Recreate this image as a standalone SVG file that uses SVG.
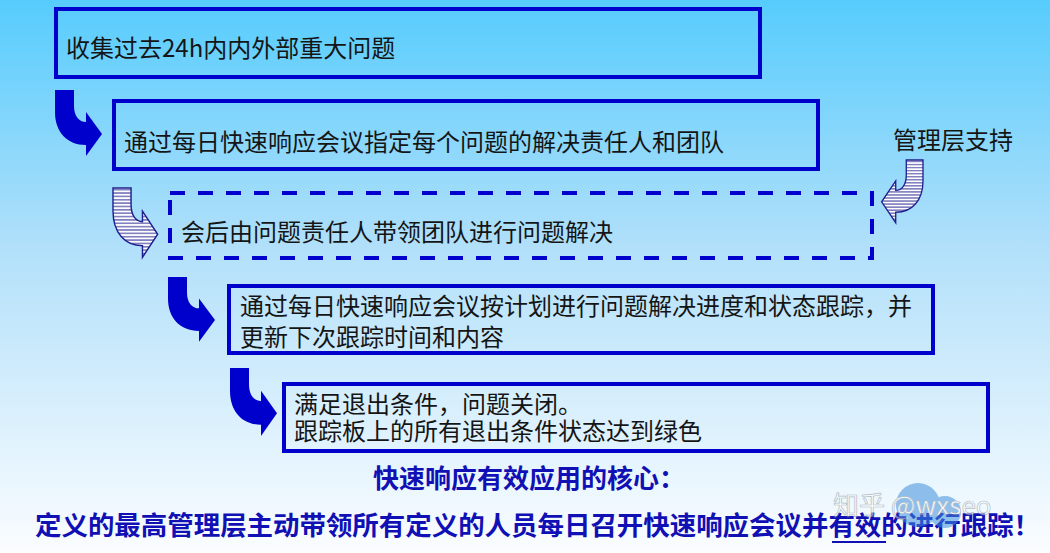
<svg xmlns="http://www.w3.org/2000/svg" width="1050" height="553" viewBox="0 0 1050 553">
  <defs>
    <linearGradient id="bg" x1="0" y1="0" x2="0" y2="1">
      <stop offset="0" stop-color="#56ccfd"/>
      <stop offset="0.45" stop-color="#b2e0fa"/>
      <stop offset="1" stop-color="#fbfdff"/>
    </linearGradient>
    <pattern id="hatch" patternUnits="userSpaceOnUse" width="6" height="3.2">
      <rect width="6" height="3.2" fill="#ffffff"/>
      <line x1="0" y1="1.6" x2="6" y2="1.6" stroke="#1f1f8f" stroke-width="0.9"/>
    </pattern>
    <path id="bent" d="M0 0 H19 V16 C19 26 24 32 31 32 V22 L47 44 L31 66 V55 C12 55 0 42 0 22 Z"/>
  </defs>
  <style>
    .box { fill: none; stroke: #0000cc; stroke-width: 4; }
    .dash { fill: none; stroke: #0000cc; stroke-width: 4; stroke-dasharray: 15 13; }
    .t { font-family: "Noto Sans CJK SC", "Noto Sans", sans-serif; font-size: 24px; fill: #151515; }
    .b { font-family: "Noto Sans CJK SC", "Noto Sans", sans-serif; font-weight: bold; font-size: 26px; fill: #1010b4; }
    .solid { fill: #0000cc; }
    .hatched { fill: url(#hatch); stroke: #1f1f8f; stroke-width: 1.5; }
  </style>
  <rect width="1050" height="553" fill="url(#bg)"/>

  <g id="connectors">
    <use href="#bent" class="solid" transform="translate(55,90)"/>
    <use href="#bent" class="hatched" transform="translate(113,188) scale(0.95,1.05)"/>
    <use href="#bent" class="solid" transform="translate(168,277) scale(1,0.98)"/>
    <use href="#bent" class="solid" transform="translate(230,368) scale(1,1.03)"/>
    <use href="#bent" class="hatched" transform="translate(923,160) scale(-0.88,0.95)"/>
  </g>

  <g id="node1">
    <rect class="box" x="56" y="9" width="704" height="68"/>
    <text class="t" x="66" y="57">收集过去24h内内外部重大问题</text>
  </g>
  <g id="node2">
    <rect class="box" x="114" y="101" width="704" height="68"/>
    <text class="t" x="124" y="151">通过每日快速响应会议指定每个问题的解决责任人和团队</text>
  </g>
  <g id="node3">
    <rect class="dash" x="170" y="193" width="702" height="65"/>
    <text class="t" x="181" y="241">会后由问题责任人带领团队进行问题解决</text>
  </g>
  <g id="node4">
    <rect class="box" x="229" y="286" width="704" height="67"/>
    <text class="t" x="240" y="315">通过每日快速响应会议按计划进行问题解决进度和状态跟踪，并</text>
    <text class="t" x="240" y="346">更新下次跟踪时间和内容</text>
  </g>
  <g id="node5">
    <rect class="box" x="284" y="384" width="704" height="67"/>
    <text class="t" x="294" y="413">满足退出条件，问题关闭。</text>
    <text class="t" x="294" y="440">跟踪板上的所有退出条件状态达到绿色</text>
  </g>
  <g id="support">
    <text class="t" x="893" y="149">管理层支持</text>
  </g>

  <g id="summary">
    <text class="b" x="373" y="488" font-size="25">快速响应有效应用的核心：</text>
    <text class="b" x="35" y="535" textLength="1005" lengthAdjust="spacingAndGlyphs">定义的最高管理层主动带领所有定义的人员每日召开快速响应会议并有效的进行跟踪！</text>
    <line x1="832" y1="542" x2="886" y2="542" stroke="#1010b4" stroke-width="2"/>
  </g>

  <g id="watermark" opacity="0.55">
    <circle cx="918" cy="505" r="22" fill="#3f8fdc"/>
    <circle cx="945" cy="512" r="16" fill="#3f8fdc"/>
    <text x="833" y="515" font-family="Noto Sans CJK SC, sans-serif" font-size="26" fill="#ffffff" stroke="#7f8c99" stroke-width="0.7">知乎 @wxseo</text>
  </g>
</svg>
